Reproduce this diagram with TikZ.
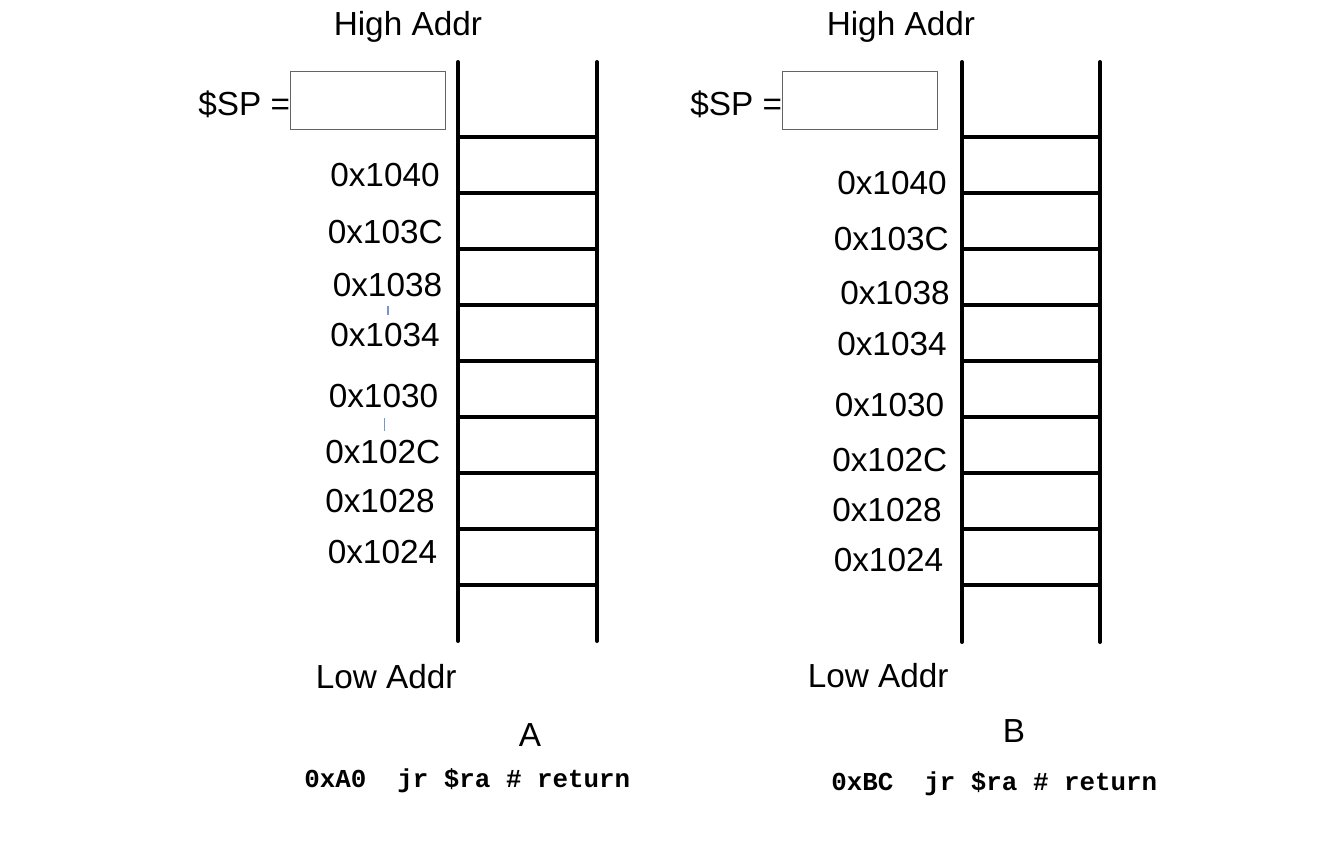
\documentclass[tikz,border=0pt]{standalone}
\usepackage{fontspec}
\setmainfont{Liberation Sans}
\newfontfamily\codefont{Liberation Mono}
\definecolor{boxgray}{RGB}{100,100,100}
\definecolor{markblue}{RGB}{120,150,205}
\begin{document}
\begin{tikzpicture}[x=0.75pt,y=-0.75pt,
  lbl/.style={font=\fontsize{25}{30}\selectfont, inner sep=0pt, anchor=base west},
  ttl/.style={font=\fontsize{25}{30}\selectfont, inner sep=0pt, anchor=base},
  codetxt/.style={font=\codefont\bfseries\fontsize{19.4}{23}\selectfont, inner sep=0pt, anchor=base west},
  rail/.style={line width=3pt, line cap=round},
  rungline/.style={line width=3pt},
  spbox/.style={draw=boxgray, line width=0.8pt, fill=white, inner sep=0pt,
    minimum width=116.25pt, minimum height=43.5pt, anchor=north west},
  bluemark/.style={draw=markblue, line width=0.8pt}]
\useasboundingbox (0,0) rectangle (1340,860);

% ---------- Panel A ----------
\foreach \yy in {137,193,249,305,361,417,473,529,585}
  \draw[rungline] (458,\yy) -- (597,\yy);
\coordinate (aLtop) at (458,62);
\coordinate (aLbot) at (458,641);
\coordinate (aRtop) at (597,62);
\coordinate (aRbot) at (597,641);
\draw[rail] (aLtop) -- (aLbot);
\draw[rail] (aRtop) -- (aRbot);

\node[lbl] (aHigh) at (333.5,36) {High Addr};
\node[lbl] (aSP) at (198,115) {\$SP =};
\node[spbox] (aBox) at (290,71) {};
\node[lbl] (a1040) at (330,186) {0x1040};
\node[lbl] (a103C) at (327.5,243) {0x103C};
\node[lbl] (a1038) at (332.5,296) {0x1038};
\node[lbl] (a1034) at (330,346.5) {0x1034};
\node[lbl] (a1030) at (328.5,407) {0x1030};
\node[lbl] (a102C) at (325,463) {0x102C};
\node[lbl] (a1028) at (325,512.5) {0x1028};
\node[lbl] (a1024) at (327.5,563) {0x1024};
\node[lbl] (aLow) at (315.5,688) {Low Addr};
\node[ttl] (aTitle) at (530,746.5) {A};
\node[codetxt] (aCode) at (304,787) {0xA0~~jr \$ra \# return};

\coordinate (m1a) at (388,306);
\coordinate (m1b) at (388,315);
\coordinate (m2a) at (384.5,418);
\coordinate (m2b) at (384.5,431);
\draw[bluemark] (m1a) -- (m1b);
\draw[bluemark] (m2a) -- (m2b);

% ---------- Panel B ----------
\foreach \yy in {137,193,249,305,361,417,473,529,585}
  \draw[rungline] (962,\yy) -- (1100,\yy);
\coordinate (bLtop) at (962,62);
\coordinate (bLbot) at (962,642);
\coordinate (bRtop) at (1100,62);
\coordinate (bRbot) at (1100,642);
\draw[rail] (bLtop) -- (bLbot);
\draw[rail] (bRtop) -- (bRbot);

\node[lbl] (bHigh) at (826.5,36) {High Addr};
\node[lbl] (bSP) at (690,115) {\$SP =};
\node[spbox] (bBox) at (782,71) {};
\node[lbl] (b1040) at (837,194.3) {0x1040};
\node[lbl] (b103C) at (833.5,250.7) {0x103C};
\node[lbl] (b1038) at (840,304.3) {0x1038};
\node[lbl] (b1034) at (837,355.5) {0x1034};
\node[lbl] (b1030) at (834.5,416) {0x1030};
\node[lbl] (b102C) at (832,471.7) {0x102C};
\node[lbl] (b1028) at (832,521.7) {0x1028};
\node[lbl] (b1024) at (833.5,571) {0x1024};
\node[lbl] (bLow) at (807.5,687) {Low Addr};
\node[ttl] (bTitle) at (1014,742.7) {B};
\node[codetxt] (bCode) at (831,790.5) {0xBC~~jr \$ra \# return};
\end{tikzpicture}
\end{document}
